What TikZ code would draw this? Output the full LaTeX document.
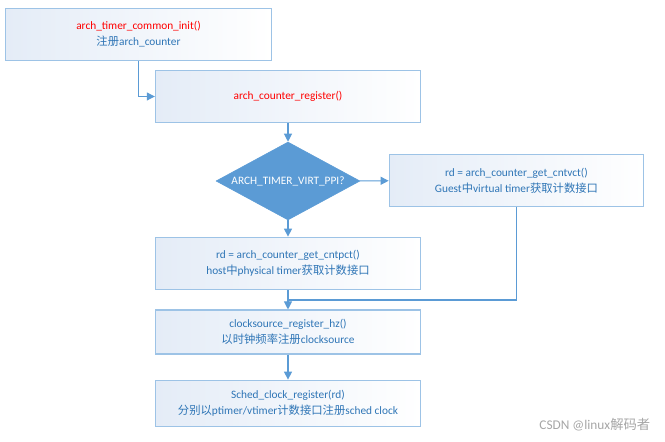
\documentclass[tikz,border=0pt]{standalone}
\usepackage{fontspec}
\setmainfont{Carlito}
\newfontfamily\cjk{Noto Sans CJK SC}
\usetikzlibrary{shapes.geometric,arrows.meta}
\definecolor{edgeblue}{HTML}{9DC3E6}
\definecolor{lineblue}{HTML}{5B9BD5}
\definecolor{textblue}{HTML}{2E75B6}
\definecolor{shadeblue}{HTML}{E4ECF7}

\begin{document}
\begin{tikzpicture}[x=0.75pt,y=-0.75pt,
	box/.style={rectangle, draw=edgeblue, thick, left color=shadeblue, right color=white, minimum width=199pt, minimum height=39.5pt, align=center, font=\fontsize{8.5}{12}\selectfont, text=textblue},
	decide/.style={diamond, fill=lineblue, draw=lineblue, aspect=1.85, minimum width=108pt, minimum height=58.5pt, inner sep=0pt, text=white, font=\fontsize{8.5}{10}\selectfont},
	flow/.style={draw=lineblue, thick, -{Triangle[length=6pt,width=6pt]}},
	]
	\useasboundingbox (0,0) rectangle (665,442);
	%Nodes
	\node[box] (init)    at (138.5,34.5)  {{\color{red}arch\_timer\_common\_init()}\\{\cjk 注册}arch\_counter};
	\node[box] (reg)     at (288,96.5)    {{\color{red}arch\_counter\_register()}};
	\node[decide] (virt) at (288,181)     {ARCH\_TIMER\_VIRT\_PPI?};
	\node[box, minimum width=191pt] (guest) at (516.5,180.5) {rd = arch\_counter\_get\_cntvct()\\Guest{\cjk 中}virtual timer{\cjk 获取计数接口}};
	\node[box] (host)    at (288,263.5)   {rd = arch\_counter\_get\_cntpct()\\host{\cjk 中}physical timer{\cjk 获取计数接口}};
	\node[box, minimum height=33pt] (hz) at (288,332) {clocksource\_register\_hz()\\{\cjk 以时钟频率注册}clocksource};
	\node[box, minimum height=35pt] (sched) at (288,403.5) {Sched\_clock\_register(rd)\\{\cjk 分别以}ptimer/vtimer{\cjk 计数接口注册}sched clock};
	\coordinate (join) at (288,300);

	%Lines
	\draw[flow] (init.south) |- (reg.west);
	\draw[flow] (reg) -- (virt);
	\draw[flow] (virt) -- (guest);
	\draw[flow] (virt) -- (host);
	\draw[draw=lineblue, thick] (guest.south) |- (join);
	\draw[flow] (host) -- (hz);
	\draw[flow] (hz) -- (sched);

	\node[anchor=south east, text=gray!70, font=\fontsize{10}{12}\selectfont] (mark) at (655,436) {CSDN @linux{\cjk 解码者}};
\end{tikzpicture}
\end{document}
